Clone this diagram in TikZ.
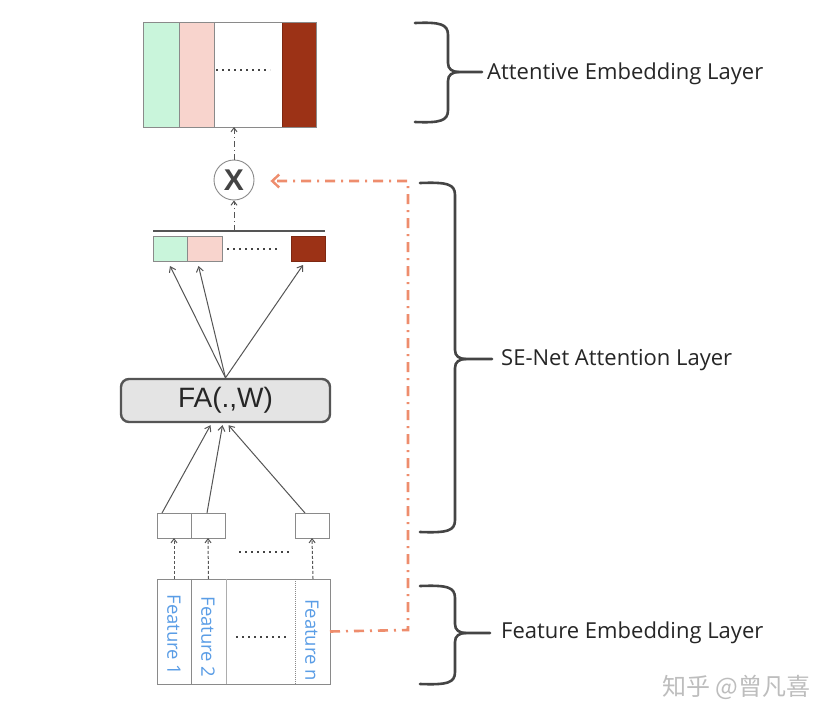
\documentclass[tikz,border=0pt]{standalone}
\usepackage{fontspec}
\setmainfont{Open Sans}
\newfontfamily\arialf{Liberation Sans}
\newfontfamily\cjkf{Noto Sans CJK SC}
\usetikzlibrary{arrows.meta,calc}
\definecolor{cgreen}{HTML}{C9F5DB}
\definecolor{cpink}{HTML}{F8D4CD}
\definecolor{cred}{HTML}{9C3216}
\definecolor{cellgray}{HTML}{8A8A8A}
\definecolor{linegray}{HTML}{555555}
\definecolor{bracegray}{HTML}{444444}
\definecolor{labelgray}{HTML}{262626}
\definecolor{orng}{HTML}{EE8D6D}
\definecolor{featblue}{HTML}{5A9DE6}
\definecolor{wmgray}{HTML}{BDBDBD}
\definecolor{fagray}{HTML}{E4E4E4}
\newcommand\mybrace[6]{%
  \draw[brc] (#1,#3) .. controls (#2-8,#3-1) and (#2,#3+1) .. (#2,#3+12) -- (#2,#4-9)
     .. controls (#2,#4-3) and (#2+4,#4) .. (#2+11,#4) -- (#6,#4);
  \draw[brc] (#1,#5) .. controls (#2-8,#5+1) and (#2,#5-1) .. (#2,#5-12) -- (#2,#4+9)
     .. controls (#2,#4+3) and (#2+4,#4) .. (#2+11,#4);}
\begin{document}
\begin{tikzpicture}[x=1pt,y=-1pt,
  cellbox/.style={draw=cellgray, line width=0.9pt, inner sep=0pt, outer sep=0pt},
  brc/.style={draw=bracegray, line width=2.6pt, line cap=round, line join=round},
  lbl/.style={anchor=west, text=labelgray, font=\fontsize{22}{24}\selectfont, inner sep=0pt},
  blk/.style={draw=linegray, line width=1pt, -{Straight Barb[length=5pt,width=7pt]}},
  dsh/.style={draw=linegray, line width=1pt, dash pattern=on 3pt off 2pt, -{Straight Barb[length=4pt,width=6pt]}},
  ddot/.style={draw=linegray, line width=1pt, dash pattern=on 6pt off 3pt on 1pt off 3pt, -{Straight Barb[length=4pt,width=6pt]}},
  dots/.style={draw=bracegray, line width=1.6pt, dash pattern=on 1.6pt off 4.4pt},
  ftxt/.style={rotate=-90, text=featblue, font=\fontsize{18.5}{20}\selectfont, inner sep=0pt}]
\useasboundingbox (0,0) rectangle (838,720);
\fill[white] (0,0) rectangle (838,720);

% top block (attentive embedding)
\node[cellbox, fill=cgreen, minimum width=36pt, minimum height=105pt] (t1) at (161,74.5) {};
\node[cellbox, fill=cpink, minimum width=35pt, minimum height=105pt] (t2) at (196.5,74.5) {};
\node[cellbox, fill=white, minimum width=68pt, minimum height=105pt] (t3) at (248,74.5) {};
\node[cellbox, fill=cred, draw=cred!80!black, minimum width=34pt, minimum height=105pt] (t4) at (299,74.5) {};
\node[cellbox, fill=none, minimum width=173pt, minimum height=105pt] (topblk) at (229.5,74.5) {};
\draw[dots] (216,70) -- (270,70);

% multiply circle
\node[circle, draw=cellgray, line width=0.9pt, fill=white, minimum size=40pt, inner sep=0pt,
      text=bracegray, font=\arialf\fontsize{30}{30}\bfseries\selectfont] (circ) at (234,180) {X};
\draw[ddot] (circ.north) -- (circ.north |- topblk.south);

% bar and small weight row
\coordinate (barL) at (153,231);
\coordinate (barR) at (325,231);
\coordinate (barc) at (234,231);
\draw[draw=linegray, line width=2pt] (barL) -- (barR);
\draw[ddot] (barc) -- (circ.south);
\node[cellbox, fill=cgreen, minimum width=34pt, minimum height=25pt] (s1) at (170,248.5) {};
\node[cellbox, fill=cpink, minimum width=35pt, minimum height=25pt] (s2) at (204.5,248.5) {};
\node[cellbox, fill=cred, draw=cred!80!black, minimum width=34pt, minimum height=25pt] (s3) at (308,248.5) {};
\draw[dots] (227,249) -- (278,249);

% FA box
\node[draw=linegray, line width=2.4pt, fill=fagray, rounded corners=8pt, minimum width=209pt,
      minimum height=43pt, inner sep=0pt, text=labelgray, font=\arialf\fontsize{28}{30}\selectfont] (fa) at (225.5,400.5) {FA(.,W)};
\draw[blk] (fa.north) -- ($(s1.south)+(0,5)$);
\draw[blk] (fa.north) -- ($(s2.south)+(-6,5)$);
\draw[blk] (fa.north) -- ($(s3.south)+(-5,4)$);

% input boxes
\node[cellbox, fill=white, minimum width=34pt, minimum height=25pt] (b1) at (174,525.5) {};
\node[cellbox, fill=white, minimum width=34pt, minimum height=25pt] (b2) at (208,525.5) {};
\node[cellbox, fill=white, minimum width=34pt, minimum height=25pt] (bn) at (312,525.5) {};
\draw[dots] (239,552) -- (291,552);
\draw[blk] ($(b1.north)+(-12,0)$) -- ($(fa.south)+(-15,2)$);
\draw[blk] ($(b2.north)+(-1,0)$) -- ($(fa.south)+(-3,2)$);
\draw[blk] ($(bn.north)+(-7,0)$) -- ($(fa.south)+(3,2)$);

% feature embedding block
\node[cellbox, fill=white, minimum width=173pt, minimum height=105pt] (feat) at (243.5,631.5) {};
\node[inner sep=0pt, minimum width=34pt, minimum height=105pt] (f1) at (174,631.5) {};
\node[inner sep=0pt, minimum width=35pt, minimum height=105pt] (f2) at (208.5,631.5) {};
\node[inner sep=0pt, minimum width=34pt, minimum height=105pt] (fn) at (313,631.5) {};
\draw[draw=cellgray, line width=0.9pt] (f1.north east) -- (f1.south east);
\draw[draw=cellgray!70, line width=0.9pt] (f2.north east) -- (f2.south east);
\draw[draw=cellgray, line width=0.9pt, dash pattern=on 1pt off 1pt] (fn.north west) -- (fn.south west);
\node[ftxt] (ft1) at (174,635) {Feature 1};
\node[ftxt] (ft2) at (208,637) {Feature 2};
\node[ftxt] (ftn) at (312,640) {Feature n};
\draw[dots] (236,637) -- (289,637);
\draw[dsh] (f1.north) -- (b1.south);
\draw[dsh] (f2.north) -- (b2.south);
\draw[dsh] (fn.north) -- (bn.south);

% orange re-weighting path
\draw[draw=orng, line width=2.6pt, dash pattern=on 10pt off 6pt on 2pt off 6pt,
      -{Straight Barb[length=7pt,width=13pt,line width=2.4pt]}]
  (feat.east) -- (408,630) |- ($(circ.east)+(16,1)$);

% braces and labels
\mybrace{415}{448}{23}{72}{122}{482}
\mybrace{420}{455}{183}{359}{532}{492}
\mybrace{420}{455}{586}{633}{684}{490}
\node[lbl] (l1) at (487,74) {Attentive Embedding Layer};
\node[lbl] (l2) at (501,360) {SE-Net Attention Layer};
\node[lbl] (l3) at (501,633) {Feature Embedding Layer};

% watermark
\node[anchor=west, text=wmgray, inner sep=0pt, font=\cjkf\fontsize{24}{26}\selectfont] (wm) at (662,687) {知乎 @曾凡喜};
\end{tikzpicture}
\end{document}
